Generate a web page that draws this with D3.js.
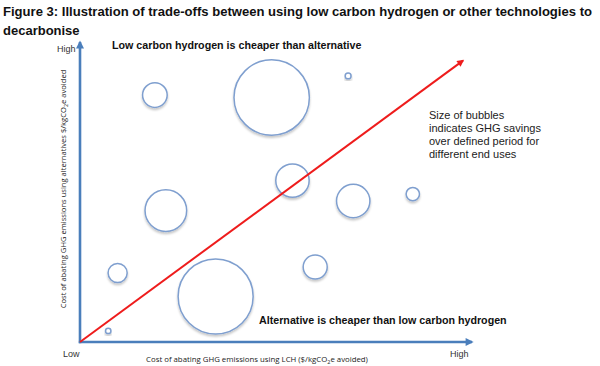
<!DOCTYPE html>
<html>
<head>
<meta charset="utf-8">
<script src="https://cdn.jsdelivr.net/npm/d3@7"></script>
<style>
  body { margin: 0; background: #fff; }
  svg { display: block; font-family: "Liberation Sans", Arial, sans-serif; }
</style>
</head>
<body>
<div class="chart"></div>
<script>
// bubble data (cost units 0-100 on both axes, savings = relative GHG saved)
let lchCost   = [19.1, 48.9, 68.4, 54.2, 21.9, 69.7, 84.9, 9.6, 60.0, 34.6, 7.2];
let altCost   = [82.3, 81.5, 88.7, 53.8, 43.8, 47.0, 49.3, 23.0, 25.0, 15.2, 3.7];
let ghgSaving = [10.5, 98.4, 0.6, 19.3, 30.0, 19.3, 3.1, 6.3, 10.0, 97.4, 0.5];
let lineFrom  = [0, 0];
let lineTo    = [97.7, 93.8];
let titleLines = ['Figure 3: Illustration of trade-offs between using low carbon hydrogen or other technologies to',
                  'decarbonise'];
let noteLines = ['Size of bubbles', 'indicates GHG savings', 'over defined period for', 'different end uses'];

let width = 600;
let height = 366;

let svg = d3.select('.chart')
            .append('svg')
            .attr('width', width)
            .attr('height', height);

let defs = svg.append('defs');
let shadow = defs.append('filter').attr('id', 'shadow')
                 .attr('x', '-20%').attr('y', '-20%').attr('width', '140%').attr('height', '150%');
shadow.append('feDropShadow').attr('dx', 0).attr('dy', 2).attr('stdDeviation', 1.2)
      .attr('flood-color', '#000').attr('flood-opacity', 0.22);

let marker = (id, color, w, h) => {
  defs.append('marker').attr('id', id)
      .attr('viewBox', '0 0 10 10').attr('refX', 8).attr('refY', 5)
      .attr('markerWidth', w).attr('markerHeight', h)
      .attr('markerUnits', 'userSpaceOnUse')
      .attr('orient', 'auto')
      .append('path').attr('d', 'M0,0 L10,5 L0,10 z').attr('fill', color);
};
marker('axisArrow', '#4a7ebb', 9, 8);
marker('redArrow', '#ee1c1c', 9, 7);

let x = d3.scaleLinear().domain([0, 100]).range([80, 472]);
let y = d3.scaleLinear().domain([0, 100]).range([342, 42]);
let r = d3.scaleSqrt().domain([0, 100]).range([0, 38]);

// title
svg.selectAll('.title')
   .data(titleLines)
   .enter()
   .append('text')
   .attr('x', 3)
   .attr('y', (d, i) => 16 + i * 19)
   .attr('font-size', 13)
   .attr('font-weight', 'bold')
   .attr('fill', '#111')
   .attr('textLength', (d, i) => i === 0 ? 589 : null)
   .attr('lengthAdjust', 'spacingAndGlyphs')
   .text(d => d);

// axes
svg.append('line')
   .attr('x1', x(0)).attr('y1', y(0) + 1.2)
   .attr('x2', x(0)).attr('y2', y(100))
   .attr('stroke', '#4a7ebb').attr('stroke-width', 2.6)
   .attr('marker-end', 'url(#axisArrow)');
svg.append('line')
   .attr('x1', x(0) - 1.2).attr('y1', y(0))
   .attr('x2', x(100)).attr('y2', y(0))
   .attr('stroke', '#4a7ebb').attr('stroke-width', 2.6)
   .attr('marker-end', 'url(#axisArrow)');

// bubbles
let bubbles = lchCost.map((d, i) => ({ lch: d, alt: altCost[i], ghg: ghgSaving[i] }));
svg.selectAll('circle')
   .data(bubbles)
   .enter()
   .append('circle')
   .attr('cx', d => x(d.lch))
   .attr('cy', d => y(d.alt))
   .attr('r', d => r(d.ghg))
   .attr('fill', '#fff')
   .attr('stroke', '#7f9fcf')
   .attr('stroke-width', 1.5)
   .attr('filter', 'url(#shadow)');

// parity line
svg.append('line')
   .attr('x1', x(lineFrom[0])).attr('y1', y(lineFrom[1]))
   .attr('x2', x(lineTo[0])).attr('y2', y(lineTo[1]))
   .attr('stroke', '#ee1c1c').attr('stroke-width', 2)
   .attr('marker-end', 'url(#redArrow)');

// region labels
svg.append('text')
   .attr('x', 112).attr('y', 49)
   .attr('font-size', 10.7).attr('font-weight', 'bold').attr('fill', '#111')
   .text('Low carbon hydrogen is cheaper than alternative');
svg.append('text')
   .attr('x', 259).attr('y', 324)
   .attr('font-size', 10.7).attr('font-weight', 'bold').attr('fill', '#111')
   .text('Alternative is cheaper than low carbon hydrogen');

// note
svg.selectAll('.note')
   .data(noteLines)
   .enter()
   .append('text')
   .attr('x', 429)
   .attr('y', (d, i) => 119 + i * 13)
   .attr('font-size', 11)
   .attr('fill', '#222')
   .text(d => d);

// axis end labels
svg.append('text').attr('x', 57).attr('y', 52).attr('font-size', 9).attr('fill', '#333').text('High');
svg.append('text').attr('x', 63).attr('y', 357).attr('font-size', 9).attr('fill', '#333').text('Low');
svg.append('text').attr('x', 450).attr('y', 357).attr('font-size', 9).attr('fill', '#333').text('High');

// axis titles
let xTitle = svg.append('text')
   .attr('x', 257).attr('y', 362)
   .attr('text-anchor', 'middle')
   .attr('font-size', 7.8).attr('fill', '#222')
   .attr('font-family', '"Open Sans", sans-serif');
xTitle.append('tspan').text('Cost of abating GHG emissions using LCH ($/kgCO');
xTitle.append('tspan').attr('font-size', 5.5).attr('dy', 2).text('2');
xTitle.append('tspan').attr('dy', -2).text('e avoided)');

let yTitle = svg.append('text')
   .attr('transform', 'translate(66,189) rotate(-90)')
   .attr('text-anchor', 'middle')
   .attr('font-size', 7.6).attr('fill', '#222')
   .attr('font-family', '"Open Sans", sans-serif');
yTitle.append('tspan').text('Cost of abating GHG emissions using alternatives $/kgCO');
yTitle.append('tspan').attr('font-size', 5.5).attr('dy', 2).text('2');
yTitle.append('tspan').attr('dy', -2).text('e avoided');
</script>
</body>
</html>
